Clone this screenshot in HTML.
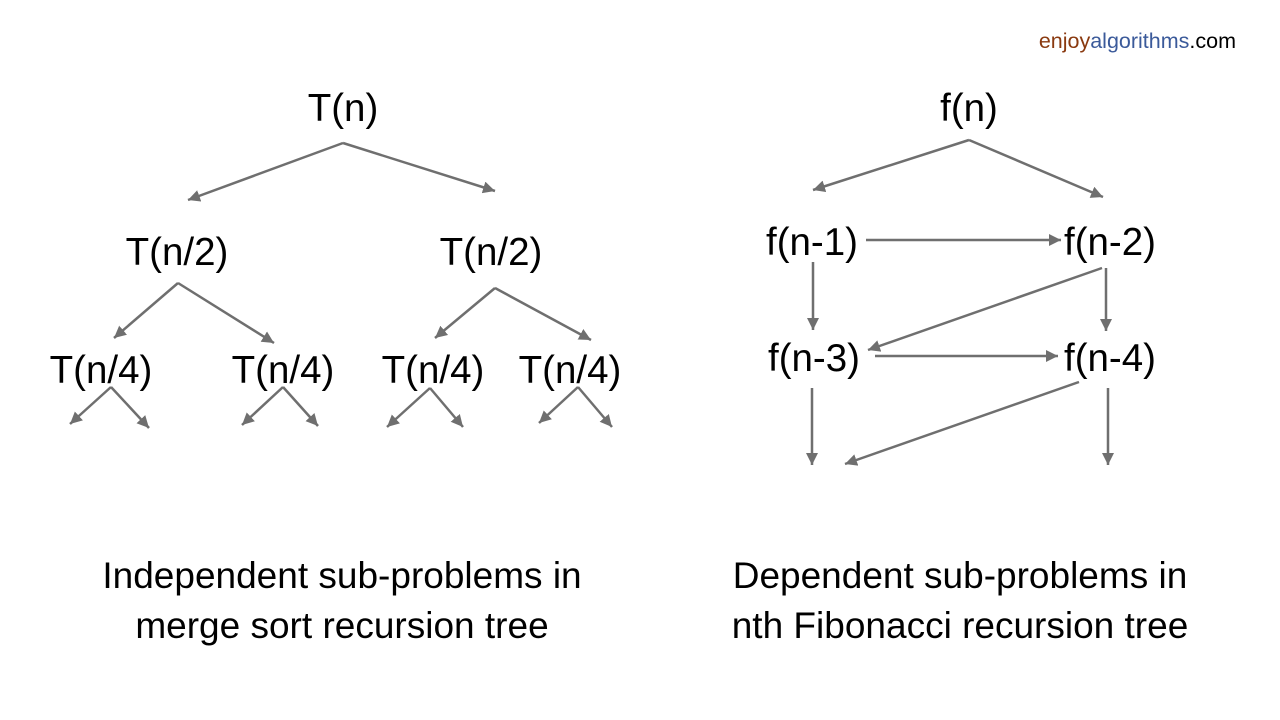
<!DOCTYPE html>
<html><head><meta charset="utf-8"><style>
html,body{margin:0;padding:0;background:#fff}
svg{display:block}
text{font-family:"Liberation Sans",sans-serif;fill:#000}
</style></head><body>
<svg width="1280" height="720" viewBox="0 0 1280 720">
<defs>
<marker id="a" markerUnits="userSpaceOnUse" markerWidth="12" markerHeight="12" refX="10" refY="5" orient="auto" viewBox="0 0 10 10">
<path d="M0,0 L10,5 L0,10 z" fill="#6f6f6f"/>
</marker>
</defs>
<text x="1236" y="48" text-anchor="end" font-size="21.5"><tspan fill="#8a3a10">enjoy</tspan><tspan fill="#3b5a9a">algorithms</tspan><tspan fill="#000">.com</tspan></text>
<g font-size="38.5" text-anchor="middle">
<text x="343" y="121">T(n)</text>
<text x="177" y="265">T(n/2)</text>
<text x="491" y="265">T(n/2)</text>
<text x="101" y="383">T(n/4)</text>
<text x="283" y="383">T(n/4)</text>
<text x="433" y="383">T(n/4)</text>
<text x="570" y="383">T(n/4)</text>
<text x="969" y="121">f(n)</text>
<text x="812" y="255">f(n-1)</text>
<text x="1110" y="255">f(n-2)</text>
<text x="814" y="371">f(n-3)</text>
<text x="1110" y="371">f(n-4)</text>
</g>
<g stroke="#6f6f6f" stroke-width="2.5" fill="none" marker-end="url(#a)">
<line x1="343" y1="143" x2="188" y2="200"/>
<line x1="343" y1="143" x2="495" y2="191"/>
<line x1="178" y1="283" x2="114" y2="338"/>
<line x1="178" y1="283" x2="274" y2="343"/>
<line x1="495" y1="288" x2="435" y2="338"/>
<line x1="495" y1="288" x2="591" y2="340"/>
<line x1="111" y1="387" x2="70" y2="424"/>
<line x1="111" y1="387" x2="149" y2="428"/>
<line x1="283" y1="387" x2="242" y2="425"/>
<line x1="283" y1="387" x2="318" y2="426"/>
<line x1="430" y1="388" x2="387" y2="427"/>
<line x1="430" y1="388" x2="463" y2="427"/>
<line x1="578" y1="387" x2="539" y2="423"/>
<line x1="578" y1="387" x2="612" y2="427"/>
<line x1="969" y1="140" x2="813" y2="190"/>
<line x1="969" y1="140" x2="1103" y2="197"/>
<line x1="866" y1="240" x2="1061" y2="240"/>
<line x1="813" y1="262" x2="813" y2="330"/>
<line x1="1102" y1="268" x2="868" y2="350"/>
<line x1="1106" y1="268" x2="1106" y2="331"/>
<line x1="875" y1="356" x2="1058" y2="356"/>
<line x1="812" y1="388" x2="812" y2="465"/>
<line x1="1079" y1="382" x2="845" y2="464"/>
<line x1="1108" y1="388" x2="1108" y2="465"/>
</g>
<g font-size="37" text-anchor="middle">
<text x="342" y="588">Independent sub-problems in</text>
<text x="342" y="638">merge sort recursion tree</text>
<text x="960" y="588">Dependent sub-problems in</text>
<text x="960" y="638">nth Fibonacci recursion tree</text>
</g>
</svg>
</body></html>
